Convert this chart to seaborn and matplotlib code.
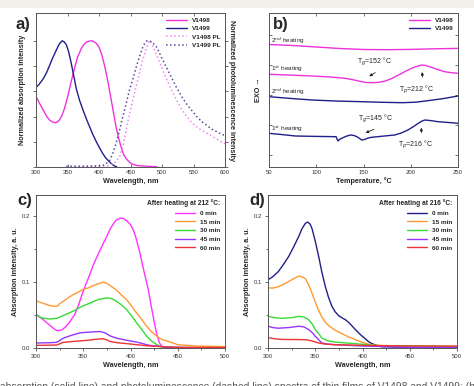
import matplotlib
matplotlib.use('Agg')
import matplotlib.pyplot as plt
from matplotlib.ticker import MultipleLocator, NullFormatter
import seaborn as sns

sns.set_style("ticks")
plt.rcParams['font.family'] = ['Liberation Sans', 'DejaVu Sans']

# ---- a) normalized absorption and PL
absWl1498 = [300, 305, 311.6, 317, 322, 327, 331.6, 336, 340.5, 345, 351, 356, 361.6, 366, 372, 376, 380,
             386.8, 391, 395.8, 400, 403.7, 408, 411.6, 415.5, 419.5, 423, 427, 431, 435, 439, 443, 448,
             453.7, 460, 470, 480, 492]
abs1498 = [0.56, 0.51, 0.45, 0.40, 0.37, 0.355, 0.35, 0.365, 0.40, 0.46, 0.57, 0.68, 0.79, 0.87, 0.94, 0.97, 0.99,
           1.0, 0.995, 0.98, 0.95, 0.90, 0.82, 0.74, 0.64, 0.53, 0.43, 0.32, 0.23, 0.16, 0.10, 0.066, 0.04,
           0.02, 0.012, 0.008, 0.005, 0.002]
absWl1499 = [300, 305, 311.6, 317, 322, 327, 332.6, 337, 341.6, 345, 348.4, 352, 356, 360, 364, 369, 374.7,
             380, 385, 390, 395.8, 401, 406, 411, 416.8, 421, 424.7, 428]
abs1499 = [0.63, 0.655, 0.70, 0.75, 0.81, 0.87, 0.93, 0.975, 1.0, 0.99, 0.966, 0.91, 0.82, 0.72, 0.62, 0.53, 0.45,
           0.38, 0.32, 0.26, 0.20, 0.15, 0.106, 0.07, 0.04, 0.02, 0.008, 0.002]
plWl1499 = [348, 380, 405, 411, 416.8, 422, 427, 432, 437.9, 443, 448.4, 454, 459, 464, 469.5, 473, 476, 480,
            483, 487, 491.5, 499, 507, 515, 523, 531, 539, 547, 555, 563, 571, 579, 587, 594, 600]
pl1499 = [0.005, 0.006, 0.01, 0.025, 0.05, 0.11, 0.185, 0.28, 0.40, 0.50, 0.61, 0.70, 0.79, 0.87, 0.95, 0.985, 1.0, 1.0,
          0.99, 0.975, 0.95, 0.87, 0.79, 0.71, 0.63, 0.56, 0.50, 0.45, 0.40, 0.36, 0.33, 0.30, 0.28, 0.26, 0.25]
plWl1498 = [355, 400, 415, 420, 426, 432.6, 438, 443, 448, 453.7, 459, 464, 469, 474.7, 477, 479.5, 483, 486,
            491, 497, 505, 513, 521, 528.6, 536, 544, 552, 560, 570, 581, 590, 600]
pl1498 = [0.004, 0.005, 0.01, 0.02, 0.04, 0.08, 0.17, 0.29, 0.41, 0.53, 0.64, 0.74, 0.84, 0.93, 0.97, 1.0, 0.99, 0.95,
          0.89, 0.82, 0.72, 0.63, 0.55, 0.48, 0.42, 0.37, 0.33, 0.30, 0.27, 0.24, 0.21, 0.185]

# ---- b) DSC (arbitrary heat-flow units, offset traces)
dscT_1498_2 = [50, 75, 100, 125, 150, 175, 200, 225, 250]
dsc_1498_2 = [122.5, 121.5, 120, 118.5, 117.5, 117.3, 117.6, 118.2, 118.6]
dscT_1498_1 = [50, 70, 95.6, 115, 130.7, 140, 148, 153, 159, 166, 173, 180, 187, 194, 201, 206, 211.5, 216, 222,
               229, 236, 243, 250]
dsc_1498_1 = [92.7, 92, 91, 90, 88.7, 87, 85.3, 84.5, 84.3, 84.6, 86, 88.5, 92, 95.5, 98.7, 100.5, 102, 101.5, 99.7,
              97.3, 95.3, 94.3, 93.7]
dscT_1499_2 = [50, 75, 95.6, 120, 148, 170, 191, 205, 218, 235, 250]
dsc_1499_2 = [70.3, 68.4, 67, 66, 65.3, 64.7, 64.3, 64.8, 66.3, 68.5, 71]
dscT_1499_1 = [50, 65, 78, 100, 121, 122, 123, 124.5, 127, 131, 136, 140, 143, 146, 148, 150, 151.6, 155, 158.6,
               170, 183, 190, 197, 203, 208, 212, 215, 222, 229, 240, 250]
dsc_1499_1 = [33.7, 32.3, 31, 30.6, 30.3, 28, 26, 27.5, 28.7, 30.5, 32, 31.5, 30.3, 28.5, 27, 27.2, 27.7, 29, 29.7,
              30.8, 32, 34, 37, 40.5, 43.7, 46, 47, 46.3, 45.3, 44.5, 43.7]

# ---- c) V1498 after heating at 212 C
timeLabels = ["0 min", "15 min", "30 min", "45 min", "60 min"]
cWl0 = [300, 305, 310, 315, 320, 323.6, 328, 332, 336, 341, 345, 348, 352, 356, 360.7, 365, 370, 374.8, 379,
        383.6, 386, 389.6, 393, 396, 400, 403, 406, 410, 414, 418.9, 422, 426, 428, 430.5, 433, 436, 450, 500]
c0 = [0.0505, 0.046, 0.040, 0.034, 0.028, 0.026, 0.028, 0.033, 0.040, 0.051, 0.065, 0.078, 0.094, 0.108, 0.126,
      0.140, 0.155, 0.169, 0.182, 0.192, 0.195, 0.197, 0.196, 0.193, 0.187, 0.179, 0.166, 0.144, 0.118, 0.088,
      0.063, 0.033, 0.02, 0.008, 0.003, 0.001, 0.0, 0.0]
cWl15 = [300, 305, 311, 316, 321, 323, 325, 330, 335, 339.5, 345, 350, 355, 360, 365, 371, 375, 380, 385, 390,
         396, 401, 406.5, 412, 417, 422, 427.7, 433, 440, 450, 470, 500]
c15 = [0.0717, 0.069, 0.066, 0.064, 0.063, 0.064, 0.067, 0.072, 0.077, 0.081, 0.085, 0.089, 0.091, 0.094, 0.097,
       0.100, 0.098, 0.093, 0.088, 0.081, 0.073, 0.064, 0.053, 0.043, 0.033, 0.025, 0.018, 0.013, 0.01, 0.005,
       0.003, 0.002]
cWl30 = [300, 304, 308, 315, 322, 330, 339.5, 347, 353.6, 360, 367, 374.8, 380, 385, 390, 396, 401, 406.5, 412,
         417, 422, 426, 430, 435, 500]
c30 = [0.0515, 0.047, 0.045, 0.044, 0.045, 0.050, 0.056, 0.062, 0.066, 0.070, 0.074, 0.076, 0.075, 0.071, 0.066,
       0.058, 0.049, 0.038, 0.028, 0.018, 0.011, 0.007, 0.003, 0.001, 0.0]
cWl45 = [300, 315, 322, 329, 337, 346.6, 355, 367.7, 373, 379, 385, 395, 406.5, 420, 440, 500]
c45 = [0.0076, 0.008, 0.0086, 0.015, 0.019, 0.023, 0.024, 0.025, 0.023, 0.018, 0.015, 0.012, 0.009, 0.004, 0.001, 0.0]
cWl60 = [300, 322, 329, 340, 353.6, 362, 369.5, 374, 378, 386, 396, 420, 450, 500]
c60 = [0.004, 0.0045, 0.0086, 0.010, 0.0116, 0.013, 0.014, 0.013, 0.010, 0.008, 0.0066, 0.003, 0.001, 0.0008]

# ---- d) V1499 after heating at 216 C
dWl0 = [300, 305, 311, 316, 322, 327, 332.5, 336, 339.5, 342, 344.5, 346.6, 350, 353.6, 357, 360.7, 364, 367.7,
        371, 374.8, 378, 381.8, 386, 392.4, 398, 403, 407, 410, 415, 420, 450, 500]
d0 = [0.1035, 0.108, 0.116, 0.126, 0.139, 0.153, 0.169, 0.181, 0.189, 0.191, 0.188, 0.181, 0.162, 0.139, 0.115,
      0.093, 0.077, 0.063, 0.055, 0.049, 0.046, 0.043, 0.038, 0.028, 0.020, 0.014, 0.009, 0.0066, 0.004, 0.002,
      0.001, 0.001]
dWl15 = [300, 306, 311, 317, 322, 327, 332.5, 336, 339.5, 343, 346.6, 350, 353.6, 357, 360.7, 365, 371, 378,
         385, 392, 399.5, 406, 413.6, 450, 500]
d15 = [0.091, 0.091, 0.093, 0.097, 0.101, 0.105, 0.109, 0.108, 0.105, 0.096, 0.083, 0.070, 0.057, 0.047, 0.039,
       0.033, 0.027, 0.022, 0.017, 0.013, 0.0086, 0.006, 0.004, 0.003, 0.002]
dWl30 = [300, 307, 315, 325, 332.5, 338, 343, 347, 350, 354, 357, 363, 371, 392, 420, 450, 500]
d30 = [0.048, 0.046, 0.045, 0.046, 0.048, 0.047, 0.043, 0.036, 0.028, 0.021, 0.015, 0.011, 0.009, 0.0066, 0.003,
       0.003, 0.002]
dWl45 = [300, 305, 311, 322, 332.5, 338, 343, 347, 350, 354, 357, 363, 371, 400, 450, 500]
d45 = [0.033, 0.031, 0.030, 0.031, 0.033, 0.032, 0.028, 0.023, 0.018, 0.012, 0.0076, 0.006, 0.005, 0.003, 0.001, 0.001]
dWl60 = [300, 307, 315, 330, 339.5, 346, 353.6, 360, 371, 400, 450, 500]
d60 = [0.0157, 0.014, 0.013, 0.0128, 0.0126, 0.011, 0.0076, 0.006, 0.005, 0.004, 0.003, 0.003]

MAGENTA = "#ee33dd"
NAVY = "#20208a"
cColors = ["#ff33ff", "#ff9933", "#33dd33", "#9933ff", "#ee3333"]
dColors = [NAVY, "#ff9933", "#33dd33", "#9933ff", "#ee3333"]

W, H = 474, 386
fig = plt.figure(figsize=(W / 100, H / 100), dpi=100)
fig.patches.append(plt.Rectangle((0, 1 - 7 / H), 1, 7 / H, transform=fig.transFigure,
                                 color="#f1f1ea", zorder=0))


def box(x0, y0, x1, y1):
    return [x0 / W, 1 - y1 / H, (x1 - x0) / W, (y1 - y0) / H]


axA = fig.add_axes(box(36, 13, 225, 167))
axB = fig.add_axes(box(269, 13, 458, 167))
axC = fig.add_axes(box(36, 195, 225, 348))
axD = fig.add_axes(box(268, 195, 457, 348))

for ax in (axA, axB, axC, axD):
    for s in ax.spines.values():
        s.set_color("#555555")
        s.set_linewidth(0.7)
    ax.tick_params(labelsize=4.3, length=2.5, width=0.5, colors="#333333", pad=2)
    ax.tick_params(which='minor', length=1.5, width=0.5, colors="#333333")

lbl = dict(fontsize=5.2, fontweight='bold')
lw = 1.0

# a)
sns.lineplot(x=absWl1498, y=abs1498, ax=axA, color=MAGENTA, lw=lw, label="V1498", sort=False)
sns.lineplot(x=absWl1499, y=abs1499, ax=axA, color=NAVY, lw=lw, label="V1499", sort=False)
sns.lineplot(x=plWl1498, y=pl1498, ax=axA, color="#ee88ee", lw=1.1, ls=':', label="V1498 PL", sort=False)
sns.lineplot(x=plWl1499, y=pl1499, ax=axA, color="#5a4a9a", lw=1.1, ls=':', label="V1499 PL", sort=False)
axA.set_xlim(300, 600)
axA.set_ylim(0, 1.22)
axA.set_xticks([300, 350, 400, 450, 500, 550, 600])
axA.set_yticks([0, 0.2, 0.4, 0.6, 0.8, 1.0])
axA.yaxis.set_major_formatter(NullFormatter())
axA.tick_params(axis='x', direction='in', top=True)
axA.tick_params(axis='y', direction='out', right=True)
axA.set_xlabel("Wavelength, nm", labelpad=2, **lbl)
axA.set_ylabel("Normalized absorption intensity", labelpad=3, **lbl)
axA.legend(loc='upper right', frameon=False, handlelength=3.2,
           labelspacing=0.45, borderaxespad=0.3, prop={'weight': 'bold', 'size': 4.6})
fig.text(231 / W, 1 - 90 / H, "Normalized photoluminescence intensity", rotation=-90,
         ha='center', va='center', **lbl)

# b)
sns.lineplot(x=dscT_1498_2, y=dsc_1498_2, ax=axB, color=MAGENTA, lw=lw, label="V1498", sort=False)
sns.lineplot(x=dscT_1498_1, y=dsc_1498_1, ax=axB, color=MAGENTA, lw=lw, sort=False)
sns.lineplot(x=dscT_1499_2, y=dsc_1499_2, ax=axB, color=NAVY, lw=lw, label="V1499", sort=False)
sns.lineplot(x=dscT_1499_1, y=dsc_1499_1, ax=axB, color=NAVY, lw=lw, sort=False)
axB.set_xlim(50, 250)
axB.set_ylim(0, 154)
axB.set_xticks([50, 100, 150, 200, 250])
axB.set_yticks([12, 42, 72, 102, 132])
axB.yaxis.set_major_formatter(NullFormatter())
axB.tick_params(direction='in', top=True, right=True)
axB.set_xlabel("Temperature, °C", labelpad=2, **lbl)
axB.set_ylabel("EXO →", labelpad=3, **lbl)
axB.legend(loc='upper right', frameon=False, handlelength=3.2, labelspacing=0.45,
           borderaxespad=0.3, prop={'weight': 'bold', 'size': 4.6})
tsz = 4.6
axB.text(52, 126, "2$^{nd}$ heating", fontsize=tsz, va='center')
axB.text(52, 97.7, "1$^{st}$ heating", fontsize=tsz, va='center')
axB.text(52, 75.3, "2$^{nd}$ heating", fontsize=tsz, va='center')
axB.text(52, 38.3, "1$^{st}$ heating", fontsize=tsz, va='center')
arr = dict(arrowstyle='-|>', color='#222222', lw=0.6, mutation_scale=4)
axB.annotate("T$_g$=152 °C", xy=(153.5, 89.3), xytext=(143, 105.3), fontsize=5,
             va='center', arrowprops=dict(arr, relpos=(0.75, 0)))
axB.annotate("T$_p$=212 °C", xy=(211.5, 97.7), xytext=(187.5, 77.7), fontsize=5,
             va='center', arrowprops=dict(arr, relpos=(0.7, 1)))
axB.annotate("T$_g$=145 °C", xy=(149.5, 33), xytext=(144, 48.3), fontsize=5,
             va='center', arrowprops=dict(arr, relpos=(0.75, 0)))
axB.annotate("T$_p$=216 °C", xy=(210.8, 42), xytext=(186, 22), fontsize=5,
             va='center', arrowprops=dict(arr, relpos=(0.7, 1)))

# c) and d)
cSeries = [(cWl0, c0), (cWl15, c15), (cWl30, c30), (cWl45, c45), (cWl60, c60)]
dSeries = [(dWl0, d0), (dWl15, d15), (dWl30, d30), (dWl45, d45), (dWl60, d60)]
for ax, series, colors, title in ((axC, cSeries, cColors, "After heating at 212 °C:"),
                                   (axD, dSeries, dColors, "After heating at 216 °C:")):
    for (xs, ys), col, name in zip(series, colors, timeLabels):
        sns.lineplot(x=xs, y=ys, ax=ax, color=col, lw=lw, label=name, sort=False)
    ax.set_xlim(300, 500)
    ax.set_ylim(0, 0.232)
    ax.set_xticks([300, 350, 400, 450, 500])
    ax.set_yticks([0.0, 0.1, 0.2])
    ax.set_yticklabels(["0.0", "0.1", "0.2"])
    ax.xaxis.set_minor_locator(MultipleLocator(25))
    ax.yaxis.set_minor_locator(MultipleLocator(0.05))
    ax.tick_params(which='both', direction='out')
    ax.set_xlabel("Wavelength, nm", labelpad=2, **lbl)
    ax.set_ylabel("Absorption intensity, a. u.", labelpad=2, **lbl)
    ax.legend(loc='upper right', frameon=False, handlelength=3.2, labelspacing=0.5,
              borderaxespad=0.3, alignment='right', title=title,
              prop={'weight': 'bold', 'size': 4.6},
              title_fontproperties={'weight': 'bold', 'size': 4.8})

# panel letters
for x, y, t in ((16, 24, "a)"), (273, 24, "b)"), (17, 201, "c)"), (249, 201, "d)")):
    fig.text(x / W, 1 - y / H, t, fontsize=12, fontweight='bold', va='center', ha='left')

# caption cut off at the image bottom
fig.text(0.0, 1 - 381.5 / H,
         "absorption (solid line) and photoluminescence (dashed line) spectra of thin films of V1498 and V1499; (b) DSC",
         fontsize=7.4, color="#555555", va='top', ha='left')

fig.savefig("out.png", dpi=100)
